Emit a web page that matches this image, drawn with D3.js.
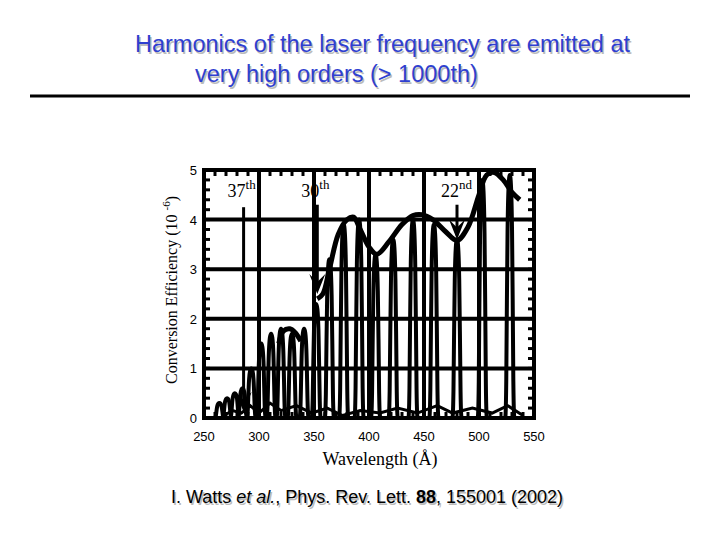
<!DOCTYPE html>
<html><head><meta charset="utf-8">
<script src="https://cdn.jsdelivr.net/npm/d3@7"></script>
<style>body{margin:0;background:#fff}svg{display:block}</style>
</head><body><svg id="c" width="720" height="540"></svg>
<script>
const xTicks=[250,300,350,400,450,500,550];
const yTicks=[0,1,2,3,4,5];
const peakLambda=[264,271,278,285,293,302,311,320,330,341,352,364,377,391,406,422,440,459,480,503,528];
const peakHeight=[0.3,0.4,0.5,0.6,1.0,1.5,1.7,1.8,1.7,1.8,2.3,3.2,3.9,4.0,3.3,3.6,4.0,3.9,3.6,4.8,4.9];
const env1=[[318,1.5],[322,1.75],[328,1.8],[333,1.72],[338,1.55]];
const env2=[[353,2.4],[358,2.5],[364,3.0],[372,3.7],[380,4.0],[386,4.05],[392,3.8],[400,3.45],[407,3.3],[418,3.55],[430,3.9],[440,4.08],[448,4.1],[458,4.0],[470,3.75],[480,3.58],[490,3.85],[500,4.5],[507,4.9],[514,4.95],[522,4.8],[530,4.55],[537,4.4]];
const noise=[[268,0.05],[276,0.15],[284,0.1],[292,0.25],[300,0.1],[310,0.3],[320,0.15],[334,0.25],[348,0.1],[362,0.2],[376,0.05],[392,0.15],[410,0.1],[426,0.2],[444,0.1],[462,0.25],[476,0.1],[494,0.2],[512,0.1],[526,0.25],[540,0.05]];
const arrows=[{l:286,y0:4.25,y1:0.12,t:"37",s:"th"},{l:353,y0:4.3,y1:2.5,t:"30",s:"th"},{l:480,y0:4.3,y1:3.6,t:"22",s:"nd"}];

const svg=d3.select("#c");
const x=d3.scaleLinear().domain([250,550]).range([204,534]);
const y=d3.scaleLinear().domain([0,5]).range([418,170]);
const tt=svg.append("g").attr("font-family","Liberation Sans, Arial").attr("font-size",23.5).attr("fill","#2f3fd0");
[["Harmonics of the laser frequency are emitted at",135,52],["very high orders (> 1000th)",195,82]].forEach(d=>{
 tt.append("text").attr("x",d[1]+1.5).attr("y",d[2]+1.5).attr("fill","#bbb").text(d[0]);
 tt.append("text").attr("x",d[1]).attr("y",d[2]).text(d[0]);
});
svg.append("line").attr("x1",30).attr("x2",690).attr("y1",96).attr("y2",96).attr("stroke","#000").attr("stroke-width",3);
const g=svg.append("g");
g.selectAll(".gx").data(xTicks.slice(1,-1)).join("line").attr("x1",x).attr("x2",x).attr("y1",y(5)).attr("y2",y(0)).attr("stroke","#000").attr("stroke-width",4);
g.selectAll(".gy").data(yTicks.slice(1,-1)).join("line").attr("y1",y).attr("y2",y).attr("x1",x(250)).attr("x2",x(550)).attr("stroke","#000").attr("stroke-width",4);
const minX=d3.range(260,550,10), minY=d3.range(0.2,5,0.2);
g.selectAll(".mt").data(minX).join("line").attr("x1",x).attr("x2",x).attr("y1",y(5)).attr("y2",y(5)+6).attr("stroke","#000").attr("stroke-width",3);
g.selectAll(".mb").data(minX).join("line").attr("x1",x).attr("x2",x).attr("y1",y(0)).attr("y2",y(0)-6).attr("stroke","#000").attr("stroke-width",3);
g.selectAll(".mr").data(minY).join("line").attr("y1",y).attr("y2",y).attr("x1",x(550)).attr("x2",x(550)-6).attr("stroke","#000").attr("stroke-width",3);
g.selectAll(".ml").data(minY).join("line").attr("y1",y).attr("y2",y).attr("x1",x(250)).attr("x2",x(250)+6).attr("stroke","#000").attr("stroke-width",3);
const ln=d3.line().x(d=>x(d[0])).y(d=>y(d[1]));
g.append("path").attr("d",ln(noise)).attr("fill","none").attr("stroke","#000").attr("stroke-width",3);
const pk=d3.line().x(d=>x(d[0])).y(d=>y(d[1])).curve(d3.curveBasis);
peakLambda.forEach((l,i)=>{
 const h=peakHeight[i], w=4.5;
 g.append("path").attr("d",pk([[l-w,0],[l-w*0.7,0],[l-w*0.5,h*0.9],[l,h*1.05],[l+w*0.5,h*0.9],[l+w*0.7,0],[l+w,0]]))
  .attr("fill","none").attr("stroke","#000").attr("stroke-width",4);
});
const le=d3.line().x(d=>x(d[0])).y(d=>y(d[1])).curve(d3.curveCatmullRom);
[env1,env2].forEach(e=>g.append("path").attr("d",le(e)).attr("fill","none").attr("stroke","#000").attr("stroke-width",5));
g.append("rect").attr("x",x(250)).attr("y",y(5)).attr("width",x(550)-x(250)).attr("height",y(0)-y(5)).attr("fill","none").attr("stroke","#000").attr("stroke-width",4);
arrows.forEach(a=>{
 const ax=x(a.l);
 g.append("line").attr("x1",ax).attr("x2",ax).attr("y1",y(a.y0)).attr("y2",y(a.y1)-4).attr("stroke","#000").attr("stroke-width",3);
 g.append("path").attr("d",`M${ax-8},${y(a.y1)-20}L${ax},${y(a.y1)}L${ax+8},${y(a.y1)-20}L${ax},${y(a.y1)-12}Z`).attr("fill","#000");
 const t=g.append("text").attr("x",ax-16).attr("y",197).attr("font-family","Liberation Serif, Times New Roman").attr("font-size",18);
 t.append("tspan").text(a.t); t.append("tspan").attr("dy",-8).attr("font-size",13).text(a.s);
});
const tf="Liberation Sans, Arial";
svg.selectAll(".yl").data(yTicks).join("text").attr("x",197).attr("y",d=>y(d)+5).attr("text-anchor","end").attr("font-family",tf).attr("font-size",13).text(d=>d);
svg.selectAll(".xl").data(xTicks).join("text").attr("x",x).attr("y",441).attr("text-anchor","middle").attr("font-family",tf).attr("font-size",13).text(d=>d);
svg.append("text").attr("x",380).attr("y",465).attr("text-anchor","middle").attr("font-family","Liberation Serif, Times New Roman").attr("font-size",18).text("Wavelength (Å)");
const yl=svg.append("text").attr("transform","translate(177,290) rotate(-90)").attr("text-anchor","middle").attr("font-family","Liberation Serif, Times New Roman").attr("font-size",16);
yl.append("tspan").text("Conversion Efficiency (10 ");yl.append("tspan").attr("dy",-7).attr("font-size",11).text("-6");yl.append("tspan").attr("dy",7).text(")");
[[1.5,"#bbb"],[0,"#000"]].forEach(([o,c])=>{
 const t=svg.append("text").attr("x",367+o).attr("y",503+o).attr("text-anchor","middle").attr("font-family",tf).attr("font-size",18).attr("fill",c);
 t.append("tspan").text("I. Watts ");t.append("tspan").attr("font-style","italic").text("et al.");
 t.append("tspan").text(", Phys. Rev. Lett. ");t.append("tspan").attr("font-weight","bold").text("88");
 t.append("tspan").text(", 155001 (2002)");
});
</script></body></html>
